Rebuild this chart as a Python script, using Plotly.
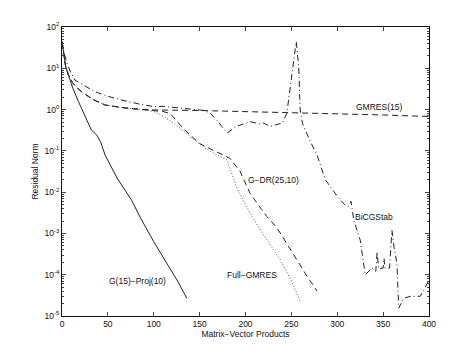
import plotly.graph_objects as go

# ---- data (x = matrix-vector products, y = residual norm) ----
proj_x = [0, 2, 4, 7, 12, 18, 24, 29, 32, 38, 42, 47, 60, 76, 85, 100, 115, 126, 136]
proj_y = [44, 20, 11, 6.9, 3.2, 1.55, 0.8, 0.43, 0.32, 0.24, 0.166, 0.079, 0.022, 0.0063, 0.0025, 0.00063, 0.00018, 0.00007, 0.000027]

gm15_x = [0, 2, 4, 7, 12, 21, 35, 47, 65, 83, 100, 150, 200, 250, 300, 350, 400]
gm15_y = [44, 20, 11, 6.9, 4.3, 2.7, 1.7, 1.29, 1.12, 1.02, 0.98, 0.95, 0.9, 0.85, 0.79, 0.74, 0.68]

gdr_x = [0, 2, 4, 7, 12, 21, 35, 47, 65, 83, 100, 110, 118, 132, 150, 162, 172, 183, 194, 205, 223, 234, 256, 266, 278]
gdr_y = [44, 20, 11, 6.9, 4.3, 2.7, 1.7, 1.29, 1.12, 1.02, 0.95, 0.9, 0.8, 0.35, 0.15, 0.11, 0.087, 0.066, 0.032, 0.0093, 0.0026, 0.0014, 0.00023, 0.0001, 0.00004]

full_x = [0, 2, 4, 7, 12, 21, 35, 47, 65, 83, 100, 110, 120, 140, 155, 169, 180, 190, 205, 220, 238, 250, 260]
full_y = [44, 20, 11, 6.9, 4.3, 2.7, 1.7, 1.29, 1.12, 1.02, 0.9, 0.7, 0.5, 0.22, 0.12, 0.079, 0.06, 0.0135, 0.0031, 0.00089, 0.00023, 0.00007, 0.000022]

bicg_x = [0, 2, 5, 9, 14, 25, 36, 50, 65, 85, 101, 110, 125, 140, 155, 162, 170, 180, 190, 205, 215, 220, 227, 235, 240, 245, 250.5, 255.3, 258, 259.6, 262, 270, 278, 287, 300, 308, 312, 315, 318, 325, 330.5, 338, 342, 343.5, 345, 350, 351, 352, 357, 359.6, 362, 365, 367, 372.4, 380, 390.5, 395, 400]
bicg_y = [44, 25, 14, 8.5, 5.2, 3.7, 2.7, 2.1, 1.7, 1.35, 1.17, 1.2, 1.1, 1.05, 0.95, 0.8, 0.51, 0.27, 0.39, 0.51, 0.45, 0.47, 0.39, 0.44, 0.47, 0.8, 7.6, 44, 11, 0.98, 0.47, 0.18, 0.079, 0.02, 0.008, 0.005, 0.0045, 0.006, 0.0021, 0.00069, 0.0001, 0.000145, 0.00012, 0.00036, 0.00014, 0.000145, 0.00025, 0.000145, 0.000145, 0.0012, 0.00045, 0.00019, 0.0000155, 0.000027, 0.00003, 0.00003, 0.000045, 0.000075]

ytick_vals = [1e-5, 1e-4, 1e-3, 1e-2, 1e-1, 1e0, 1e1, 1e2]
ytick_text = ["10<sup>-5</sup>", "10<sup>-4</sup>", "10<sup>-3</sup>", "10<sup>-2</sup>",
              "10<sup>-1</sup>", "10<sup>0</sup>", "10<sup>1</sup>", "10<sup>2</sup>"]
xtick_vals = [0, 50, 100, 150, 200, 250, 300, 350, 400]

# label text, x position, log10(y) position
labels = [
    ("GMRES(15)", 345, 0.06),
    ("G\u2212DR(25,10)", 231, -1.70),
    ("BiCGStab", 340, -2.60),
    ("Full\u2212GMRES", 207, -4.0),
    ("G(15)\u2212Proj(10)", 82, -4.15),
]

minor_vals = [k * 10.0 ** e for e in range(-5, 2) for k in range(2, 10)]

col = "#222222"
fig = go.Figure()
fig.add_trace(go.Scatter(x=proj_x, y=proj_y, mode="lines", line=dict(color=col, width=1, dash="solid")))
fig.add_trace(go.Scatter(x=gm15_x, y=gm15_y, mode="lines", line=dict(color=col, width=1, dash="6px,4px")))
fig.add_trace(go.Scatter(x=gdr_x, y=gdr_y, mode="lines", line=dict(color=col, width=1, dash="6px,4px")))
fig.add_trace(go.Scatter(x=full_x, y=full_y, mode="lines", line=dict(color="#555555", width=1, dash="1px,2px")))
fig.add_trace(go.Scatter(x=bicg_x, y=bicg_y, mode="lines", line=dict(color=col, width=1, dash="6px,3px,1px,3px")))

for t, x, y in labels:
    fig.add_annotation(x=x, y=y, yref="y", xref="x", text=t, showarrow=False,
                       font=dict(size=8.5, color="#111111"))

font = dict(family="Liberation Sans, Arial, sans-serif", size=8.5, color="#111111")
fig.update_layout(
    width=474, height=355,
    margin=dict(l=54, r=53, t=19, b=47),
    paper_bgcolor="white", plot_bgcolor="white",
    showlegend=False, font=font,
    xaxis=dict(range=[0, 400], tickvals=xtick_vals, ticks="inside", ticklen=4,
               showline=True, linecolor="#111111", linewidth=1, mirror="ticks",
               showgrid=False, zeroline=False, automargin=False,
               title=dict(text="Matrix\u2212Vector Products", standoff=2, font=dict(size=8.5))),
    yaxis=dict(type="log", range=[-5, 2], tickvals=ytick_vals, ticktext=ytick_text,
               ticks="inside", ticklen=4, showline=True, linecolor="#111111", linewidth=1,
               mirror="ticks", showgrid=False, zeroline=False, automargin=False,
               minor=dict(tickvals=minor_vals, ticks="inside", ticklen=2, showgrid=False),
               title=dict(text="Residual Norm", standoff=4, font=dict(size=8.5))),
)
fig.write_html("out.html")
